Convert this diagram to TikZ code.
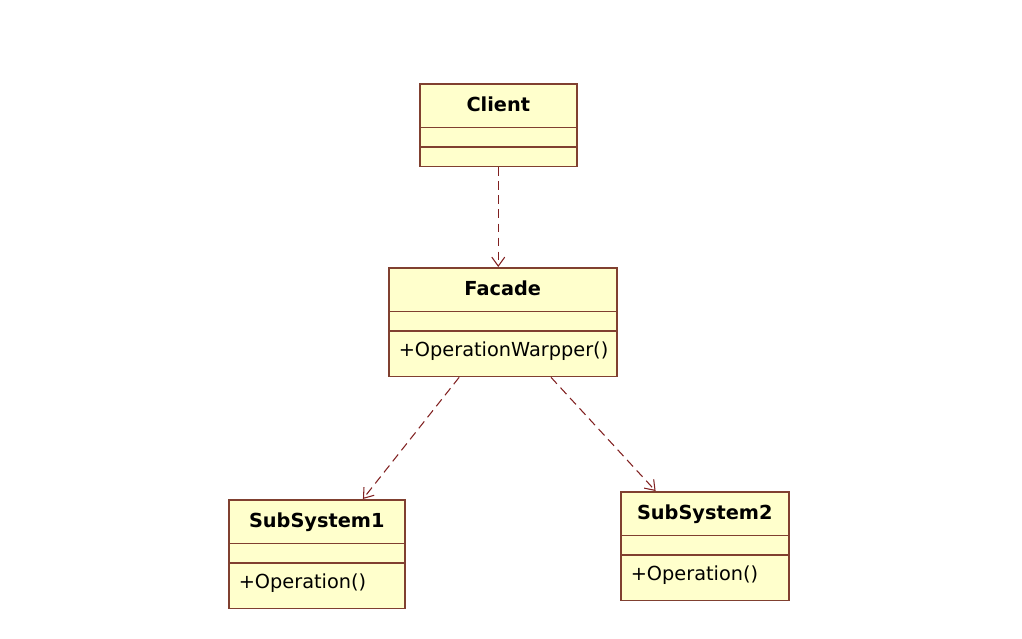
\documentclass[tikz,border=0pt]{standalone}
\usepackage{fontspec}
\setmainfont{DejaVu Sans}
\usetikzlibrary{arrows.meta, shapes.multipart, calc}

\definecolor{classfill}{RGB}{255,255,204}
\definecolor{classline}{RGB}{128,64,48}
\definecolor{deparrow}{RGB}{128,32,32}

\tikzset{
  umlclass/.style={rectangle split, rectangle split parts=3, draw=classline, fill=classfill,
    line width=0.9pt, inner xsep=0.2cm, inner ysep=0pt, align=left, anchor=north west,
    font=\fontsize{11}{13}\selectfont},
  depends/.style={deparrow, dash pattern=on 5pt off 3pt, line width=0.6pt,
    -{Straight Barb[length=0.18cm, width=0.26cm]}},
}
\newcommand{\titlerow}[1]{\makebox[\hsize]{\rule[-0.31cm]{0pt}{0.84cm}\textbf{#1}}}
\newcommand{\emptyrow}{\rule{0pt}{0.36cm}}
\newcommand{\oprow}[1]{\rule[-0.39cm]{0pt}{0.88cm}#1}

\begin{document}
\begin{tikzpicture}[x=0.02cm, y=-0.02cm]
  \useasboundingbox (0,0) rectangle (1022,639);
  % classes
  \node[umlclass, text width=2.74cm] (client) at (419,83)
    {\titlerow{Client}\nodepart{two}\emptyrow\nodepart{three}\emptyrow};
  \node[umlclass, text width=4.16cm] (facade) at (388,267)
    {\titlerow{Facade}\nodepart{two}\emptyrow\nodepart{three}\oprow{+OperationWarpper()}};
  \node[umlclass, text width=3.12cm] (subone) at (228,499)
    {\titlerow{SubSystem1}\nodepart{two}\emptyrow\nodepart{three}\oprow{+Operation()}};
  \node[umlclass, text width=2.96cm] (subtwo) at (620,491)
    {\titlerow{SubSystem2}\nodepart{two}\emptyrow\nodepart{three}\oprow{+Operation()}};
  % dependencies
  \draw[depends] (client.south) -- (client.south |- facade.north);
  \draw[depends] ($(facade.south west)!0.31!(facade.south east)$)
    -- ($(subone.north west)!0.76!(subone.north east)$);
  \draw[depends] ($(facade.south west)!0.71!(facade.south east)$)
    -- ($(subtwo.north west)!0.21!(subtwo.north east)$);
\end{tikzpicture}
\end{document}
